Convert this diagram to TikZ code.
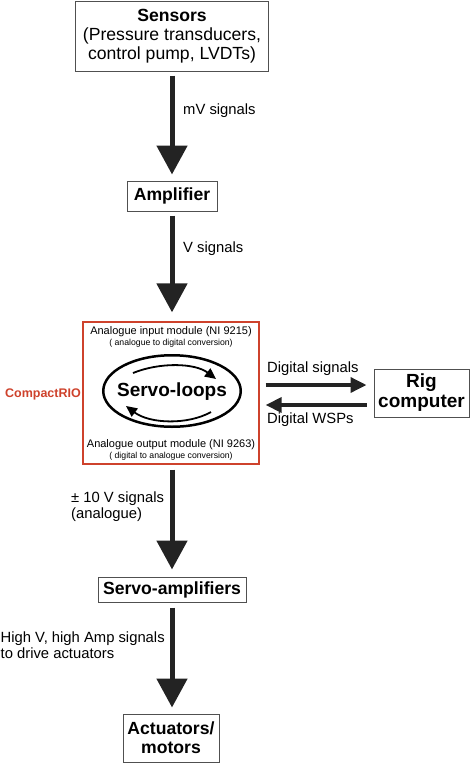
\documentclass[tikz,border=0pt]{standalone}
\usepackage{fontspec}
\setmainfont{Liberation Sans}
\usetikzlibrary{arrows.meta,shapes.geometric}
\definecolor{rioRed}{RGB}{206,66,44}
\definecolor{boxGray}{RGB}{80,80,80}
\definecolor{arrDark}{RGB}{35,35,35}
\tikzset{
  boxnode/.style={draw=boxGray, line width=1pt, inner sep=0pt, align=center, fill=white},
  bigarrow/.style={draw=arrDark, line width=5pt, -{Triangle[width=30pt,length=29pt]}},
  sidearrow/.style={draw=arrDark, line width=3.5pt, -{Triangle[width=15pt,length=16pt]}},
  loopArrow/.style={draw=black, line width=1.8pt, -{Triangle[width=10pt,length=11pt]}},
  lbl/.style={inner sep=0pt, anchor=west, align=left, font=\fontsize{14.8}{16.5}\selectfont},
  boldbig/.style={font=\fontsize{17.6}{19}\selectfont\bfseries}
}
\begin{document}
\begin{tikzpicture}[x=1pt,y=-1pt]
\useasboundingbox (0,0) rectangle (474,763);
% boxes
\node[boxnode, minimum width=193pt, minimum height=70pt, font=\fontsize{17.6}{19}\selectfont] (sens) at (172,36)
  {\textbf{Sensors}\\(Pressure transducers,\\control pump, LVDTs)};
\node[boxnode, boldbig, minimum width=90pt, minimum height=30pt] (amp) at (172,196) {Amplifier};
\node[draw=rioRed, line width=1.3pt, inner sep=0pt, minimum width=176pt, minimum height=142pt] (rio) at (171,393) {};
\node[boxnode, font=\fontsize{19}{20}\selectfont\bfseries, minimum width=95pt, minimum height=48pt] (rig) at (421.5,393) {Rig\\computer};
\node[boxnode, boldbig, minimum width=148pt, minimum height=25pt] (servoamp) at (172,589.5) {Servo-amplifiers};
\node[boxnode, boldbig, minimum width=96pt, minimum height=48pt] (act) at (171,738) {Actuators/\\motors};
% CompactRIO label
\node[inner sep=0pt, anchor=east, text=rioRed, font=\fontsize{12.5}{14}\selectfont\bfseries] (riolabel) at (81,394) {CompactRIO};
% module texts
\node[inner sep=0pt, font=\fontsize{11}{12}\selectfont] (ain) at (171,332) {Analogue input module (NI 9215)};
\node[inner sep=0pt, font=\fontsize{8.7}{10}\selectfont] (ainsub) at (171,343.5) {( analogue to digital conversion)};
\node[inner sep=0pt, font=\fontsize{11}{12}\selectfont] (aout) at (171,445) {Analogue output module (NI 9263)};
\node[inner sep=0pt, font=\fontsize{8.7}{10}\selectfont] (aoutsub) at (171,456.5) {( digital to analogue conversion)};
% servo loops
\node[draw=black, line width=2.5pt, ellipse, inner sep=0pt, minimum width=137.5pt, minimum height=71.5pt] (loops) at (172,391) {};
\node[inner sep=0pt, font=\fontsize{19}{20}\selectfont\bfseries] (loopstext) at (172,392) {Servo-loops};
\coordinate (la1) at (133,373);
\coordinate (la2) at (216,379);
\coordinate (lb1) at (211,412);
\coordinate (lb2) at (126,406);
\draw[loopArrow] (la1) .. controls (160,362) and (195,363) .. (la2);
\draw[loopArrow] (lb1) .. controls (188,425) and (150,424) .. (lb2);
% vertical arrows
\draw[bigarrow, shorten <=4pt, shorten >=6pt] (sens.south) -- (amp.north);
\draw[bigarrow, shorten <=4pt, shorten >=9pt] (amp.south) -- ([xshift=1pt]rio.north);
\draw[bigarrow, shorten <=5pt, shorten >=7pt] ([xshift=1pt]rio.south) -- (servoamp.north);
\draw[bigarrow, shorten <=5pt, shorten >=6pt] (servoamp.south) -- ([xshift=1pt]act.north);
% horizontal arrows
\draw[sidearrow, shorten <=6pt, shorten >=7pt] ([yshift=8pt]rio.east) -- ([yshift=8pt]rig.west);
\draw[sidearrow, shorten <=7pt, shorten >=6pt] ([yshift=-12pt]rig.west) -- ([yshift=-12pt]rio.east);
% labels
\node[lbl] (l1) at (183,111) {mV signals};
\node[lbl] (l2) at (183,249) {V signals};
\node[lbl] (l3) at (267,369) {Digital signals};
\node[lbl] (l4) at (267,420) {Digital WSPs};
\node[lbl] (l5) at (71,506.5) {± 10 V signals\\(analogue)};
\node[lbl] (l6) at (0.5,645) {High V, high Amp signals\\to drive actuators};
\end{tikzpicture}
\end{document}
